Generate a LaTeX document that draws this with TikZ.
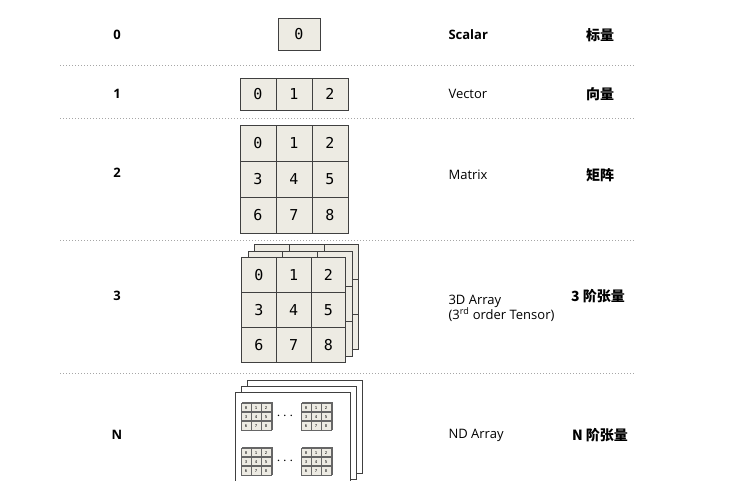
\documentclass[tikz,border=0pt]{standalone}
\usepackage{fontspec}
\setmainfont{Open Sans}
\newfontfamily\cjk{Noto Sans CJK SC}
\newfontfamily\digitfont{DejaVu Sans Mono}
\begin{document}
\begin{tikzpicture}[x=1pt,y=-1pt,
  cell/.style={draw=black!75,fill=cellbg,line width=0.8pt,minimum width=36pt,minimum height=36pt,inner sep=0pt,font=\digitfont\fontsize{15}{15}\selectfont},
  sheet/.style={draw=black!75,fill=white,line width=0.8pt},
  mini/.style={draw=black!60,fill=cellbg,line width=0.3pt,minimum width=10pt,minimum height=9pt,inner sep=0pt,font=\digitfont\fontsize{4}{4}\selectfont},
  sep/.style={draw=black!35,dotted,line width=1pt},
  lvl/.style={font=\bfseries\fontsize{13}{13}\selectfont,anchor=center},
  nm/.style={font=\fontsize{13}{15}\selectfont,anchor=west,align=left},
  zh/.style={font=\cjk\bfseries\fontsize{14}{14}\selectfont,anchor=center}]
\definecolor{cellbg}{HTML}{EDEBE3}
\useasboundingbox (0,0) rectangle (750,480);
% separators
\foreach \yy/\n in {65/a,118/b,240/c,373/d}{
  \coordinate (s\n l) at (60,\yy); \coordinate (s\n r) at (635,\yy);
  \draw[sep] (s\n l) -- (s\n r);}
% level labels
\node[lvl] (l0) at (117,35) {0};
\node[lvl] (l1) at (117,94) {1};
\node[lvl] (l2) at (117,173) {2};
\node[lvl] (l3) at (117,296) {3};
\node[lvl] (l4) at (117,435) {N};
% names
\node[nm,font=\bfseries\fontsize{13}{15}\selectfont] (n0) at (445,35) {Scalar};
\node[nm] (n1) at (445,94) {Vector};
\node[nm] (n2) at (445,175) {Matrix};
\node[nm] (n3) at (445,308) {3D Array\\(3\textsuperscript{rd} order Tensor)};
\node[nm] (n4) at (445,435) {ND Array};
\node[zh] (z0) at (600,35) {标量};
\node[zh] (z1) at (600,94) {向量};
\node[zh] (z2) at (600,175) {矩阵};
\node[zh] (z3) at (598,296) {3 阶张量};
\node[zh] (z4) at (600,435) {N 阶张量};
% scalar
\node[cell,minimum width=42pt,minimum height=32pt] (sc) at (299,34) {0};
% vector
\foreach \v [count=\i from 0] in {0,1,2}{
  \node[cell,minimum height=32pt] (v\i) at (258+\i*36,94) {\v};}
% matrix
\foreach \r in {0,1,2}{\foreach \c in {0,1,2}{
  \pgfmathtruncatemacro\val{\r*3+\c}
  \node[cell] (m\r\c) at (258+\c*36,143+\r*36) {\val};}}
% 3D array back layers
\foreach \o in {13,6.5}{
  \foreach \r in {0,1,2}{\foreach \c in {0,1,2}{
    \node[cell,minimum width=34.7pt,minimum height=35pt] (b\r\c) at (259+\c*34.7+\o,275+\r*35-\o) {};}}}
\foreach \r in {0,1,2}{\foreach \c in {0,1,2}{
  \pgfmathtruncatemacro\val{\r*3+\c}
  \node[cell,minimum width=34.7pt,minimum height=35pt] (t\r\c) at (259+\c*34.7,275+\r*35) {\val};}}
% ND array sheets
\foreach \o/\nn in {12/p,6/q,0/r}{
  \draw[sheet] (235+\o,392-\o) rectangle (350+\o,485-\o);}
\foreach \gx/\gy [count=\g] in {246/408,306/408,246/453,306/453}{
  \foreach \r in {0,1,2}{\foreach \c in {0,1,2}{
    \pgfmathtruncatemacro\val{\r*3+\c}
    \node[mini] (g\g\r\c) at (\gx+\c*10+1.5,\gy+\r*9-1.5) {};
    \node[mini] (h\g\r\c) at (\gx+\c*10,\gy+\r*9) {\val};}}}
\node[font=\bfseries\fontsize{14}{14}\selectfont] (d1) at (285,416) {$\cdots$};
\node[font=\bfseries\fontsize{14}{14}\selectfont] (d2) at (285,461) {$\cdots$};
\end{tikzpicture}
\end{document}
